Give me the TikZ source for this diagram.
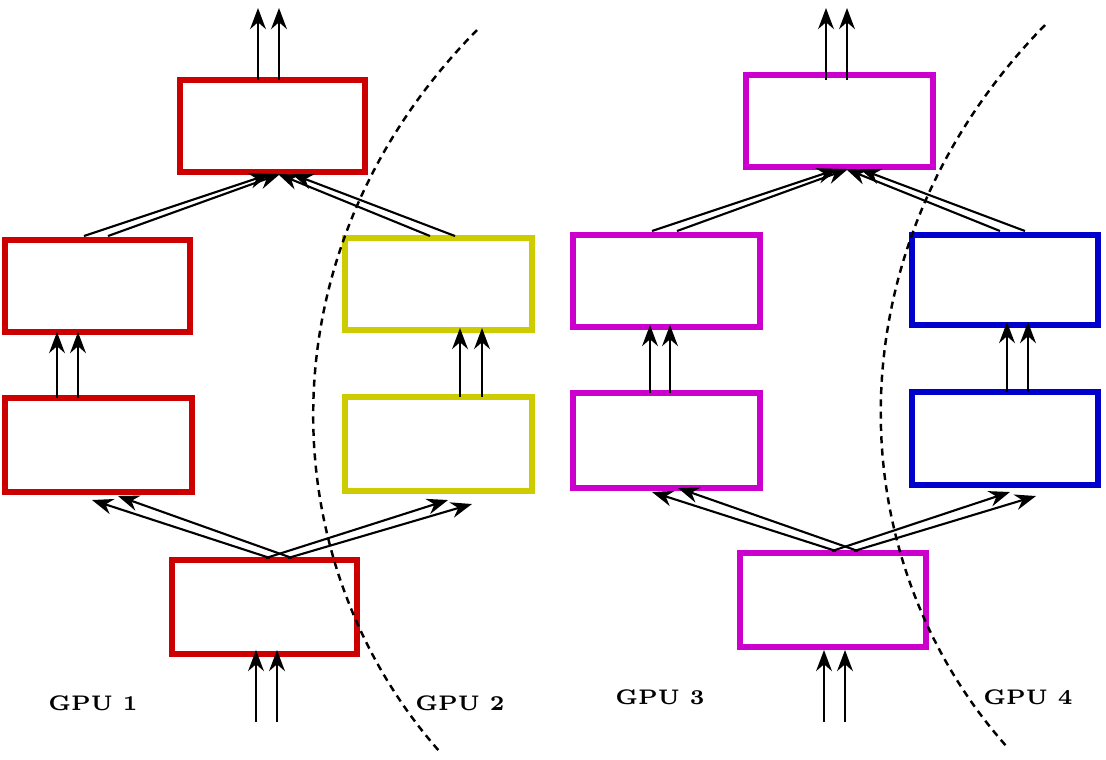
\documentclass[tikz,border=0pt]{standalone}
\usetikzlibrary{arrows.meta}
\begin{document}
\begin{tikzpicture}[x=0.01cm,y=-0.01cm,
  box/.style={draw=#1,line width=1.6pt,inner sep=0pt},
  ar/.style={line width=0.6pt,-{Stealth[length=6pt,width=4.5pt]}},
  lab/.style={font=\fontsize{6}{7}\selectfont\bfseries},
  arc/.style={dashed,line width=0.7pt,dash pattern=on 2pt off 1.5pt}]
\useasboundingbox (0,0) rectangle (1106,759);
\definecolor{cr}{RGB}{204,0,0}\definecolor{cy}{RGB}{204,204,0}
\definecolor{cm}{RGB}{204,0,204}\definecolor{cb}{RGB}{0,0,204}
\newcommand{\bx}[6]{\draw[box=#6] (#2,#3) rectangle (#4,#5) node[coordinate] (#1) {};}
% left panel
\bx{a1}{180}{80}{365}{172}{cr}
\bx{a2}{5}{240}{190}{332}{cr}
\bx{a3}{5}{398}{192}{492}{cr}
\bx{a4}{345}{238}{532}{330}{cy}
\bx{a5}{345}{397}{532}{491}{cy}
\bx{a6}{172}{560}{357}{654}{cr}
% right panel
\bx{b1}{746}{75}{933}{167}{cm}
\bx{b2}{573}{235}{760}{327}{cm}
\bx{b3}{573}{393}{760}{488}{cm}
\bx{b4}{912}{235}{1098}{325}{cb}
\bx{b5}{912}{392}{1098}{485}{cb}
\bx{b6}{740}{553}{926}{647}{cm}
\foreach \dx in {0,568}{
\begin{scope}[xshift=\dx*0.01cm]
 \draw[ar] (258,80) -- (258,8); \draw[ar] (279,80) -- (279,8);
 \draw[ar] (256,722) -- (256,650); \draw[ar] (277,722) -- (277,650);
\end{scope}}
% left internal
\draw[ar] (57,398) -- (57,332); \draw[ar] (78,398) -- (78,332);
\draw[ar] (460,397) -- (460,328); \draw[ar] (482,397) -- (482,328);
\draw[ar] (84,236) -- (270,174); \draw[ar] (108,236) -- (280,174);
\draw[ar] (430,236) -- (278,174); \draw[ar] (455,236) -- (292,174);
\draw[ar] (270,558) -- (92,500); \draw[ar] (292,558) -- (118,496);
\draw[ar] (266,558) -- (448,500); \draw[ar] (288,558) -- (472,504);
% right internal
\draw[ar] (650,393) -- (650,325); \draw[ar] (670,393) -- (670,325);
\draw[ar] (1007,392) -- (1007,322); \draw[ar] (1028,392) -- (1028,322);
\draw[ar] (652,231) -- (838,169); \draw[ar] (677,231) -- (848,169);
\draw[ar] (1000,231) -- (846,169); \draw[ar] (1025,231) -- (860,169);
\draw[ar] (836,551) -- (652,492); \draw[ar] (858,551) -- (678,488);
\draw[ar] (832,551) -- (1010,492); \draw[ar] (854,551) -- (1036,496);
% dashed arcs
\draw[arc] (477,30) .. controls (260,250) and (270,560) .. (440,752);
\draw[arc] (1045,25) .. controls (830,245) and (835,555) .. (1008,748);
\node[lab] (g1) at (93,703) {GPU 1};
\node[lab] (g2) at (460,703) {GPU 2};
\node[lab] (g3) at (660,697) {GPU 3};
\node[lab] (g4) at (1028,697) {GPU 4};
\end{tikzpicture}
\end{document}
